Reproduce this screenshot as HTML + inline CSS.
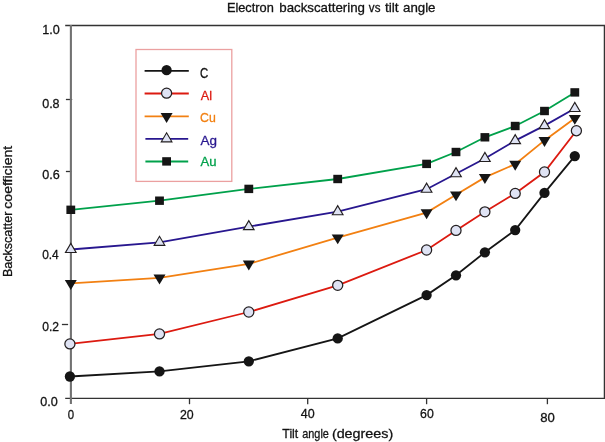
<!DOCTYPE html>
<html><head><meta charset="utf-8"><title>Electron backscattering vs tilt angle</title>
<style>
html,body{margin:0;padding:0;background:#fff;}
body{width:605px;height:442px;overflow:hidden;}
svg{display:block;}
text{font-family:"Liberation Sans", Arial, sans-serif;}
</style></head><body>
<svg width="605" height="442" viewBox="0 0 605 442">
<rect width="605" height="442" fill="#fff"/>
<path d="M65.2,25.5 H604.4 V398.4 H65.2" fill="none" stroke="#333" stroke-width="1.3"/>
<line x1="61.9" y1="324.5" x2="68.1" y2="324.5" stroke="#333" stroke-width="1.3"/>
<line x1="65.9" y1="171.5" x2="71.5" y2="171.5" stroke="#333" stroke-width="1.3"/>
<line x1="65.9" y1="99.5" x2="72.2" y2="99.5" stroke="#333" stroke-width="1.3"/>
<line x1="189.5" y1="398.4" x2="189.5" y2="404.2" stroke="#333" stroke-width="1.3"/>
<line x1="307.7" y1="398.4" x2="307.7" y2="404.2" stroke="#333" stroke-width="1.3"/>
<line x1="426.6" y1="398.4" x2="426.6" y2="404.2" stroke="#333" stroke-width="1.3"/>
<line x1="547.4" y1="398.4" x2="547.4" y2="404.2" stroke="#333" stroke-width="1.3"/>
<line x1="70.9" y1="25" x2="70.9" y2="404" stroke="#727272" stroke-width="2.1"/>
<path d="M69.90,376.50 L159.50,371.40 L248.80,361.30 L337.70,338.40 L426.60,295.10 L456.00,275.30 L484.90,252.30 L515.20,230.10 L544.50,192.90 L574.80,156.10" fill="none" stroke="#151515" stroke-width="1.8"/>
<path d="M69.90,343.90 L159.50,333.90 L248.80,312.00 L337.70,285.30 L426.60,250.00 L456.00,230.40 L484.90,211.80 L515.20,193.40 L544.50,172.00 L576.40,130.70" fill="none" stroke="#dc1a10" stroke-width="1.8"/>
<path d="M70.80,283.30 L159.50,277.80 L248.80,263.90 L337.70,237.70 L426.60,212.60 L456.00,194.70 L484.90,177.40 L515.20,164.10 L544.50,140.40 L574.80,118.20" fill="none" stroke="#f28012" stroke-width="1.8"/>
<path d="M70.80,249.50 L159.50,242.30 L248.80,226.60 L337.70,211.70 L426.60,189.20 L456.00,173.70 L484.90,158.50 L515.20,140.60 L544.50,125.60 L574.80,108.50" fill="none" stroke="#28178f" stroke-width="1.8"/>
<path d="M70.80,209.80 L159.50,200.70 L248.80,188.90 L337.70,179.00 L426.60,163.90 L456.00,152.00 L484.90,137.30 L515.20,126.00 L544.50,111.00 L574.80,92.40" fill="none" stroke="#00a14b" stroke-width="1.8"/>
<circle cx="69.90" cy="376.50" r="5.15" fill="#151515"/>
<circle cx="159.50" cy="371.40" r="5.15" fill="#151515"/>
<circle cx="248.80" cy="361.30" r="5.15" fill="#151515"/>
<circle cx="337.70" cy="338.40" r="5.15" fill="#151515"/>
<circle cx="426.60" cy="295.10" r="5.15" fill="#151515"/>
<circle cx="456.00" cy="275.30" r="5.15" fill="#151515"/>
<circle cx="484.90" cy="252.30" r="5.15" fill="#151515"/>
<circle cx="515.20" cy="230.10" r="5.15" fill="#151515"/>
<circle cx="544.50" cy="192.90" r="5.15" fill="#151515"/>
<circle cx="574.80" cy="156.10" r="5.15" fill="#151515"/>
<circle cx="69.90" cy="343.90" r="5.05" fill="#dfe3f4" stroke="#231f20" stroke-width="1.25"/>
<circle cx="159.50" cy="333.90" r="5.05" fill="#dfe3f4" stroke="#231f20" stroke-width="1.25"/>
<circle cx="248.80" cy="312.00" r="5.05" fill="#dfe3f4" stroke="#231f20" stroke-width="1.25"/>
<circle cx="337.70" cy="285.30" r="5.05" fill="#dfe3f4" stroke="#231f20" stroke-width="1.25"/>
<circle cx="426.60" cy="250.00" r="5.05" fill="#dfe3f4" stroke="#231f20" stroke-width="1.25"/>
<circle cx="456.00" cy="230.40" r="5.05" fill="#dfe3f4" stroke="#231f20" stroke-width="1.25"/>
<circle cx="484.90" cy="211.80" r="5.05" fill="#dfe3f4" stroke="#231f20" stroke-width="1.25"/>
<circle cx="515.20" cy="193.40" r="5.05" fill="#dfe3f4" stroke="#231f20" stroke-width="1.25"/>
<circle cx="544.50" cy="172.00" r="5.05" fill="#dfe3f4" stroke="#231f20" stroke-width="1.25"/>
<circle cx="576.40" cy="130.70" r="5.05" fill="#dfe3f4" stroke="#231f20" stroke-width="1.25"/>
<path d="M64.80,280.00 L76.80,280.00 L70.80,289.90 Z" fill="#151515"/>
<path d="M153.50,274.50 L165.50,274.50 L159.50,284.40 Z" fill="#151515"/>
<path d="M242.80,260.60 L254.80,260.60 L248.80,270.50 Z" fill="#151515"/>
<path d="M331.70,234.40 L343.70,234.40 L337.70,244.30 Z" fill="#151515"/>
<path d="M420.60,209.30 L432.60,209.30 L426.60,219.20 Z" fill="#151515"/>
<path d="M450.00,191.40 L462.00,191.40 L456.00,201.30 Z" fill="#151515"/>
<path d="M478.90,174.10 L490.90,174.10 L484.90,184.00 Z" fill="#151515"/>
<path d="M509.20,160.80 L521.20,160.80 L515.20,170.70 Z" fill="#151515"/>
<path d="M538.50,137.10 L550.50,137.10 L544.50,147.00 Z" fill="#151515"/>
<path d="M568.80,114.90 L580.80,114.90 L574.80,124.80 Z" fill="#151515"/>
<path d="M65.50,252.50 L76.10,252.50 L70.80,243.50 Z" fill="#dfe3f4" stroke="#231f20" stroke-width="1.15" stroke-linejoin="miter"/>
<path d="M154.20,245.30 L164.80,245.30 L159.50,236.30 Z" fill="#dfe3f4" stroke="#231f20" stroke-width="1.15" stroke-linejoin="miter"/>
<path d="M243.50,229.60 L254.10,229.60 L248.80,220.60 Z" fill="#dfe3f4" stroke="#231f20" stroke-width="1.15" stroke-linejoin="miter"/>
<path d="M332.40,214.70 L343.00,214.70 L337.70,205.70 Z" fill="#dfe3f4" stroke="#231f20" stroke-width="1.15" stroke-linejoin="miter"/>
<path d="M421.30,192.20 L431.90,192.20 L426.60,183.20 Z" fill="#dfe3f4" stroke="#231f20" stroke-width="1.15" stroke-linejoin="miter"/>
<path d="M450.70,176.70 L461.30,176.70 L456.00,167.70 Z" fill="#dfe3f4" stroke="#231f20" stroke-width="1.15" stroke-linejoin="miter"/>
<path d="M479.60,161.50 L490.20,161.50 L484.90,152.50 Z" fill="#dfe3f4" stroke="#231f20" stroke-width="1.15" stroke-linejoin="miter"/>
<path d="M509.90,143.60 L520.50,143.60 L515.20,134.60 Z" fill="#dfe3f4" stroke="#231f20" stroke-width="1.15" stroke-linejoin="miter"/>
<path d="M539.20,128.60 L549.80,128.60 L544.50,119.60 Z" fill="#dfe3f4" stroke="#231f20" stroke-width="1.15" stroke-linejoin="miter"/>
<path d="M569.50,111.50 L580.10,111.50 L574.80,102.50 Z" fill="#dfe3f4" stroke="#231f20" stroke-width="1.15" stroke-linejoin="miter"/>
<rect x="66.40" y="205.60" width="8.8" height="8.4" fill="#151515"/>
<rect x="155.10" y="196.50" width="8.8" height="8.4" fill="#151515"/>
<rect x="244.40" y="184.70" width="8.8" height="8.4" fill="#151515"/>
<rect x="333.30" y="174.80" width="8.8" height="8.4" fill="#151515"/>
<rect x="422.20" y="159.70" width="8.8" height="8.4" fill="#151515"/>
<rect x="451.60" y="147.80" width="8.8" height="8.4" fill="#151515"/>
<rect x="480.50" y="133.10" width="8.8" height="8.4" fill="#151515"/>
<rect x="510.80" y="121.80" width="8.8" height="8.4" fill="#151515"/>
<rect x="540.10" y="106.80" width="8.8" height="8.4" fill="#151515"/>
<rect x="570.40" y="88.20" width="8.8" height="8.4" fill="#151515"/>
<rect x="136" y="49.5" width="95.8" height="131.9" fill="none" stroke="#eba0a0" stroke-width="1.3"/>
<line x1="144.6" y1="70.9" x2="188.8" y2="70.9" stroke="#151515" stroke-width="1.8"/>
<circle cx="166.60" cy="70.20" r="5.15" fill="#151515"/>
<line x1="144.6" y1="93.5" x2="188.8" y2="93.5" stroke="#dc1a10" stroke-width="1.8"/>
<circle cx="166.60" cy="93.20" r="5.05" fill="#dfe3f4" stroke="#231f20" stroke-width="1.25"/>
<line x1="144.6" y1="116.3" x2="188.8" y2="116.3" stroke="#f28012" stroke-width="1.8"/>
<path d="M160.60,113.00 L172.60,113.00 L166.60,122.90 Z" fill="#151515"/>
<line x1="145.4" y1="138.8" x2="188.2" y2="138.8" stroke="#28178f" stroke-width="1.8"/>
<path d="M161.30,141.80 L171.90,141.80 L166.60,132.80 Z" fill="#dfe3f4" stroke="#231f20" stroke-width="1.15" stroke-linejoin="miter"/>
<line x1="145.4" y1="161.5" x2="188.2" y2="161.5" stroke="#00a14b" stroke-width="1.8"/>
<rect x="162.20" y="157.20" width="8.8" height="8.4" fill="#151515"/>
<text x="226.90" y="11.90" font-size="13.40" fill="#121212" stroke="#121212" stroke-width="0.3" textLength="46.90" lengthAdjust="spacingAndGlyphs">Electron</text>
<text x="279.24" y="11.90" font-size="13.40" fill="#121212" stroke="#121212" stroke-width="0.3" textLength="85.74" lengthAdjust="spacingAndGlyphs">backscattering</text>
<text x="368.87" y="11.90" font-size="13.40" fill="#121212" stroke="#121212" stroke-width="0.3" textLength="11.56" lengthAdjust="spacingAndGlyphs">vs</text>
<text x="384.93" y="11.90" font-size="13.40" fill="#121212" stroke="#121212" stroke-width="0.3" textLength="13.73" lengthAdjust="spacingAndGlyphs">tilt</text>
<text x="403.00" y="11.90" font-size="13.40" fill="#121212" stroke="#121212" stroke-width="0.3" textLength="32.50" lengthAdjust="spacingAndGlyphs">angle</text>
<text x="282.35" y="438.15" font-size="13.40" fill="#121212" stroke="#121212" stroke-width="0.3" textLength="15.93" lengthAdjust="spacingAndGlyphs">Tilt</text>
<text x="302.24" y="438.15" font-size="13.40" fill="#121212" stroke="#121212" stroke-width="0.3" textLength="26.63" lengthAdjust="spacingAndGlyphs">angle</text>
<text x="331.90" y="438.15" font-size="13.40" fill="#121212" stroke="#121212" stroke-width="0.3" textLength="61.28" lengthAdjust="spacingAndGlyphs">(degrees)</text>
<text x="0" y="0" font-size="13.40" fill="#121212" stroke="#121212" stroke-width="0.3" textLength="65.40" lengthAdjust="spacingAndGlyphs" transform="translate(11.50,277.09) rotate(-90)">Backscatter</text>
<text x="0" y="0" font-size="13.40" fill="#121212" stroke="#121212" stroke-width="0.3" textLength="62.88" lengthAdjust="spacingAndGlyphs" transform="translate(11.50,208.64) rotate(-90)">coefficient</text>
<text x="42.18" y="34.00" font-size="13.70" fill="#121212" stroke="#121212" stroke-width="0.3" textLength="17.55" lengthAdjust="spacingAndGlyphs">1.0</text>
<text x="42.16" y="108.00" font-size="13.70" fill="#121212" stroke="#121212" stroke-width="0.3" textLength="17.45" lengthAdjust="spacingAndGlyphs">0.8</text>
<text x="42.19" y="179.00" font-size="13.70" fill="#121212" stroke="#121212" stroke-width="0.3" textLength="17.50" lengthAdjust="spacingAndGlyphs">0.6</text>
<text x="42.17" y="259.00" font-size="13.70" fill="#121212" stroke="#121212" stroke-width="0.3" textLength="16.60" lengthAdjust="spacingAndGlyphs">0.4</text>
<text x="42.17" y="331.00" font-size="13.70" fill="#121212" stroke="#121212" stroke-width="0.3" textLength="16.82" lengthAdjust="spacingAndGlyphs">0.2</text>
<text x="40.33" y="406.00" font-size="13.70" fill="#121212" stroke="#121212" stroke-width="0.3" textLength="17.53" lengthAdjust="spacingAndGlyphs">0.0</text>
<text x="67.67" y="419.00" font-size="13.70" fill="#121212" stroke="#121212" stroke-width="0.3" textLength="6.36" lengthAdjust="spacingAndGlyphs">0</text>
<text x="180.00" y="419.00" font-size="13.70" fill="#121212" stroke="#121212" stroke-width="0.3" textLength="13.74" lengthAdjust="spacingAndGlyphs">20</text>
<text x="300.86" y="418.00" font-size="13.70" fill="#121212" stroke="#121212" stroke-width="0.3" textLength="13.89" lengthAdjust="spacingAndGlyphs">40</text>
<text x="420.12" y="418.00" font-size="13.70" fill="#121212" stroke="#121212" stroke-width="0.3" textLength="13.67" lengthAdjust="spacingAndGlyphs">60</text>
<text x="540.14" y="422.00" font-size="13.70" fill="#121212" stroke="#121212" stroke-width="0.3" textLength="14.63" lengthAdjust="spacingAndGlyphs">80</text>
<text x="200.02" y="78.00" font-size="14.60" fill="#121212" stroke="#121212" stroke-width="0.3" textLength="8.25" lengthAdjust="spacingAndGlyphs">C</text>
<text x="200.72" y="100.00" font-size="13.40" fill="#dc1a10" stroke="#dc1a10" stroke-width="0.3" textLength="11.25" lengthAdjust="spacingAndGlyphs">Al</text>
<text x="200.11" y="122.00" font-size="13.40" fill="#f28012" stroke="#f28012" stroke-width="0.3" textLength="15.77" lengthAdjust="spacingAndGlyphs">Cu</text>
<text x="200.47" y="145.00" font-size="13.40" fill="#28178f" stroke="#28178f" stroke-width="0.3" textLength="16.46" lengthAdjust="spacingAndGlyphs">Ag</text>
<text x="200.43" y="166.00" font-size="13.40" fill="#00a14b" stroke="#00a14b" stroke-width="0.3" textLength="16.01" lengthAdjust="spacingAndGlyphs">Au</text>
</svg>
</body></html>
